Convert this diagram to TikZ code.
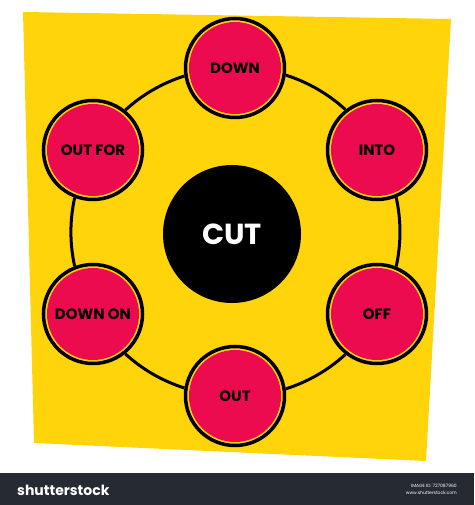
\documentclass[tikz,border=0pt]{standalone}
\usepackage{fontspec}
\setmainfont{Poppins}
\definecolor{cutyellow}{HTML}{FFD40B}
\definecolor{cutred}{HTML}{EC0B4F}
\definecolor{stockbar}{HTML}{262A33}
\begin{document}
\begin{tikzpicture}[x=1pt, y=1pt,
    word/.style={circle, draw=black, line width=3.5pt, fill=cutyellow, minimum size=99pt, inner sep=0pt, text=black, font=\fontsize{15}{17}\selectfont\bfseries,
        path picture={\fill[cutred] (path picture bounding box.center) circle (46pt);}},
    core/.style={circle, fill=black, minimum size=138pt, inner sep=0pt, text=white, font=\fontsize{29}{32}\selectfont\bfseries},
    ring/.style={draw=black, line width=3pt, looseness=0.86},
    stamp/.style={text=white, inner sep=0pt}
]
    \useasboundingbox (0,0) rectangle (474,505);
    % Fond jaune
    \fill[cutyellow] (23,493) -- (451,486) -- (426,44) -- (34,62) -- cycle;

    % Centre
    \node[core] (cut) at (232,271) {CUT};

    % Cercles autour
    \node[word] (down) at (235,437) {DOWN};
    \node[word] (into) at (377,355) {INTO};
    \node[word] (off) at (377,191) {OFF};
    \node[word] (out) at (235,109) {OUT};
    \node[word] (downon) at (93,191) {DOWN ON};
    \node[word] (outfor) at (93,355) {OUT FOR};

    % Anneau
    \draw[ring] (down.-8.75) to[out=-17.5, in=137.5] (into.128.75);
    \draw[ring] (into.-68.75) to[out=-77.5, in=77.5] (off.68.75);
    \draw[ring] (off.-128.75) to[out=-137.5, in=17.5] (out.8.75);
    \draw[ring] (out.171.25) to[out=162.5, in=-42.5] (downon.-51.25);
    \draw[ring] (downon.111.25) to[out=102.5, in=-102.5] (outfor.-111.25);
    \draw[ring] (outfor.51.25) to[out=42.5, in=-162.5] (down.-171.25);

    % Bandeau du bas
    \fill[stockbar] (0,0) rectangle (474,32);
    \node[stamp, anchor=west, font=\fontsize{14}{16}\selectfont\bfseries] (logo) at (17,15) {shutterstock};
    \node[stamp, anchor=east, font=\fontsize{4.5}{5}\selectfont] (imageid) at (457,19) {IMAGE ID: 727087960};
    \node[stamp, anchor=east, font=\fontsize{4.5}{5}\selectfont] (site) at (457,12) {www.shutterstock.com};
\end{tikzpicture}
\end{document}
